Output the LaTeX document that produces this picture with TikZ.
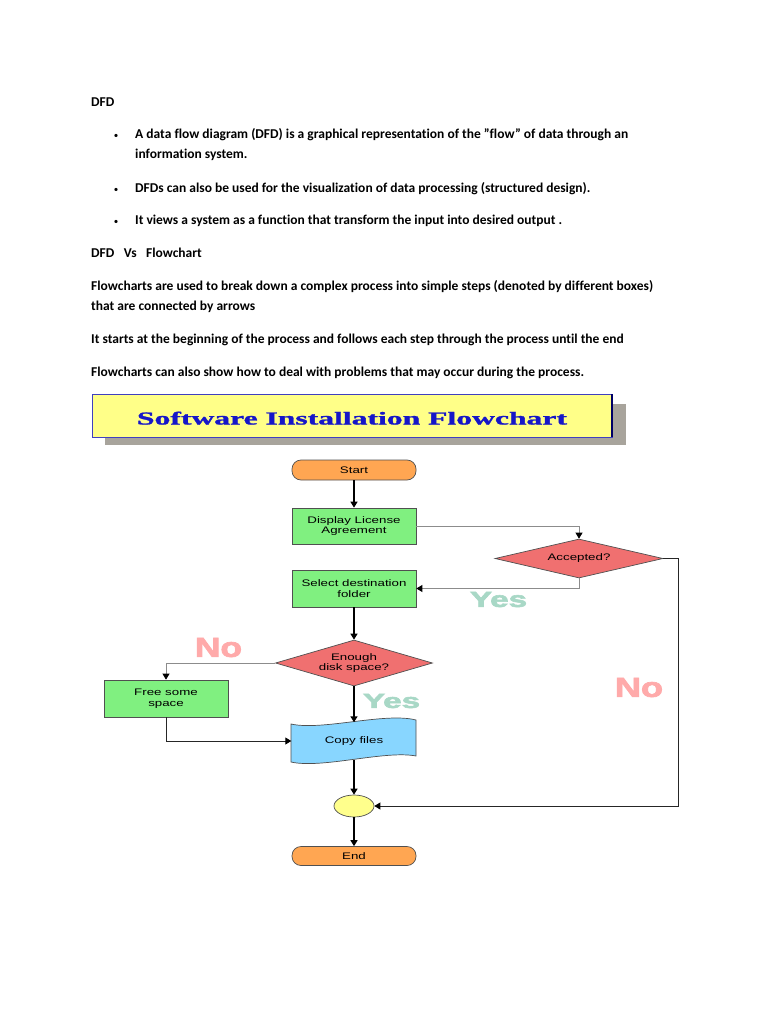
\documentclass[tikz,border=0pt]{standalone}
\usepackage{fontspec}
\setmainfont{Carlito}[Ligatures=NoCommon]
\newfontfamily\boxfam{Liberation Sans}
\newfontfamily\heavyfam{Liberation Sans Bold}[FakeBold=2.5]
\newfontfamily\titlefam{Liberation Serif Bold}[FakeBold=1.2]
\usetikzlibrary{arrows.meta,shapes.geometric}
\definecolor{boxgreen}{RGB}{128,240,128}
\definecolor{diared}{RGB}{240,112,112}
\definecolor{termorange}{RGB}{255,166,82}
\definecolor{copyblue}{RGB}{136,214,255}
\definecolor{elyellow}{RGB}{255,255,140}
\definecolor{titleyellow}{RGB}{255,255,136}
\definecolor{titleblue}{RGB}{22,22,200}
\definecolor{shadowgrey}{RGB}{168,164,156}
\definecolor{yesgreen}{RGB}{168,216,198}
\definecolor{nopink}{RGB}{255,170,170}
\definecolor{linegrey}{RGB}{140,140,140}
\definecolor{bordergrey}{RGB}{80,80,80}
\newcommand\bt[1]{\scalebox{1.4}[1]{#1}}
\newcommand\sq{\symbol{34}}
\tikzset{
  body/.style={anchor=base west, inner sep=0pt, font=\fontsize{13.5}{16}\selectfont\bfseries},
  bul/.style={anchor=base, inner sep=0pt, font=\fontsize{9}{10}\selectfont},
  shp/.style={draw=bordergrey, line width=0.7pt, inner sep=0pt, align=center,
     font=\boxfam\fontsize{9.5}{10.5}\selectfont},
  procbox/.style={shp, fill=boxgreen, minimum width=124pt, minimum height=37pt},
  termbox/.style={shp, fill=termorange, rounded corners=9pt, minimum width=124pt, minimum height=20pt},
  decbox/.style={shp, diamond, fill=diared},
  tip/.style={-{Triangle[length=6pt,width=7pt,color=black]}},
  arr/.style={tip, draw=black, line width=1.4pt},
  garr/.style={tip, draw=linegrey, line width=0.8pt},
  barr/.style={tip, draw=black!85, line width=0.9pt},
  yeslab/.style={inner sep=0pt, text=yesgreen, font=\heavyfam},
  nolab/.style={inner sep=0pt, text=nopink, font=\heavyfam},
}
\begin{document}
\begin{tikzpicture}[x=1pt,y=-1pt]
\useasboundingbox[fill=white] (0,0) rectangle (768,1024);

% ---- text ----
\node[body] (h1) at (91,106.7) {DFD};
\node[bul] (b1) at (116,139) {•};
\node[body] (t1) at (135,139) {A data flow diagram (DFD) is a graphical representation of the \sq flow\sq{} of data through an};
\node[body] (t1b) at (135,159) {information system.};
\node[bul] (b2) at (116,192.3) {•};
\node[body] (t2) at (135,192.3) {DFDs can also be used for the visualization of data processing (structured design).};
\node[bul] (b3) at (116,224.3) {•};
\node[body] (t3) at (135,224.3) {It views a system as a function that transform the input into desired output .};
\node[body] (h2) at (91,257.7) {DFD\hspace{0.7em}Vs\hspace{0.7em}Flowchart};
\node[body] (p1) at (91,290) {Flowcharts are used to break down a complex process into simple steps (denoted by different boxes)};
\node[body] (p1b) at (91,310) {that are connected by arrows};
\node[body] (p2) at (91,343.3) {It starts at the beginning of the process and follows each step through the process until the end};
\node[body] (p3) at (91,376) {Flowcharts can also show how to deal with problems that may occur during the process.};

% ---- title banner ----
\fill[shadowgrey] (105,404) rectangle (626,445);
\filldraw[fill=titleyellow, draw=blue!50!gray, line width=0.8pt] (92,394) rectangle (612,437);
\draw[draw=blue!40!black, line width=1.6pt] (612,394) -- (612,437);
\node[inner sep=0pt, anchor=base, text=titleblue, font=\titlefam] (title) at (352,424.5)
  {\resizebox{430pt}{12.8pt}{Software Installation Flowchart}};

% ---- flowchart nodes ----
\node[termbox] (start) at (354,470) {\bt{Start}};
\node[procbox, minimum height=36pt] (disp) at (354,526) {\bt{Display License}\\\bt{Agreement}};
\node[decbox, shape aspect=4.3, minimum width=168pt, minimum height=39pt] (acc) at (579,558.5) {\bt{Accepted?}};
\node[procbox] (sel) at (354,588.5) {\bt{Select destination}\\\bt{folder}};
\node[decbox, shape aspect=3.4, minimum width=157pt, minimum height=46pt] (enough) at (354,663) {\bt{Enough}\\\bt{disk space?}};
\node[procbox] (free) at (166,698.5) {\bt{Free some}\\\bt{space}};
\node[inner sep=0pt, minimum width=125pt, minimum height=37pt] (copy) at (354,741) {};
\filldraw[fill=copyblue, draw=bordergrey, line width=0.7pt]
  (291,724) .. controls (322,731) and (385,712) .. (416,720)
  -- (416,756) .. controls (385,750) and (322,769) .. (291,762) -- cycle;
\node[inner sep=0pt, font=\boxfam\fontsize{9.5}{10.5}\selectfont] (copytext) at (354,741) {\bt{Copy files}};
\node[shp, ellipse, fill=elyellow, minimum width=40pt, minimum height=22pt] (ell) at (354,806) {};
\node[termbox, minimum height=19pt] (end) at (354,856) {\bt{End}};

% ---- connectors ----
\coordinate (rt) at (678,558.5);
\draw[arr] (start.south) -- (disp.north);
\draw[garr] (disp.east) -| (acc.north);
\draw[garr] (acc.south) |- (sel.east);
\draw[barr] (acc.east) -- (rt) |- (ell.east);
\draw[arr] (sel.south) -- (enough.north);
\draw[garr] (enough.west) -| (free.north);
\draw[arr] (enough.south) -- (copy.north);
\draw[barr] (free.south) |- (copy.west);
\draw[arr] (copy.south) -- (ell.north);
\draw[arr] (ell.south) -- (end.north);

% ---- labels ----
\node[yeslab] (yes1) at (498.5,599.5) {\resizebox{57pt}{15pt}{Yes}};
\node[yeslab] (yes2) at (391.5,701) {\resizebox{57pt}{14pt}{Yes}};
\node[nolab] (no1) at (218.5,647.5) {\resizebox{47pt}{19pt}{No}};
\node[nolab] (no2) at (639,687.5) {\resizebox{48pt}{19pt}{No}};
\end{tikzpicture}
\end{document}
